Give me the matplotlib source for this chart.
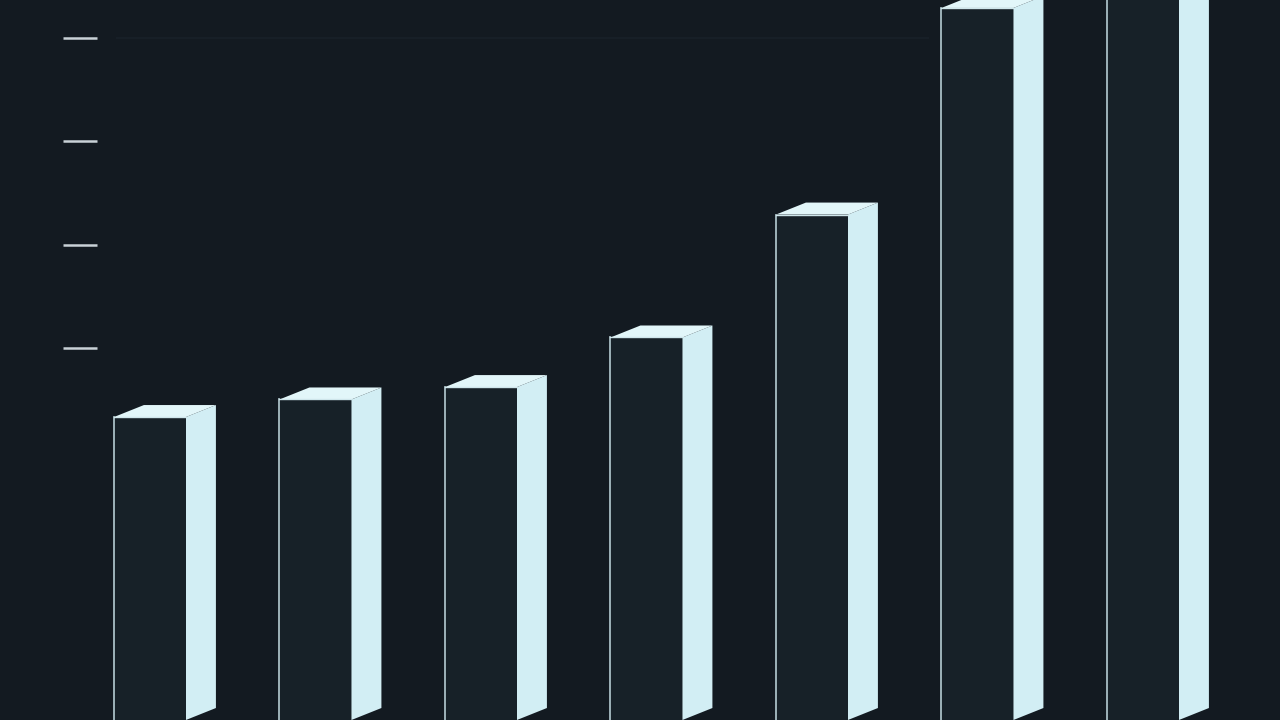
import matplotlib
matplotlib.use("Agg")
import matplotlib.pyplot as plt
from matplotlib.patches import Polygon

# bar heights (arbitrary units, ticks every 10)
categories = ["A", "B", "C", "D", "E", "F", "G"]
values = [33.3, 35.0, 36.2, 41.0, 52.9, 72.9, 80.0]
tick_values = [40, 50, 60, 70]

bg = "#131a21"
front_col = "#172128"
side_col = "#d2eef4"
top_col = "#e2f6f9"
edge_col = "#a9bfc5"

fig = plt.figure(figsize=(12.8, 7.2), dpi=100, facecolor=bg)
ax = fig.add_axes([97 / 1280, 0, 1 - 97 / 1280, 1])
ax.set_facecolor(bg)

y0, y1 = 3.97, 73.67
ax.set_xlim(-0.32, 6.828)
ax.set_ylim(y0, y1)

width = 0.435
dx = 0.181   # side depth
dy = 1.16    # top rise

# faint grid line at the top tick
ax.plot([-0.2, 4.7], [tick_values[-1]] * 2, color="#171f27", lw=1.5, zorder=0)

for i, v in enumerate(values):
    xl = i - width / 2
    xr = i + width / 2
    base = y0
    # side face
    ax.add_patch(Polygon([(xr, base), (xr + dx, base + dy), (xr + dx, v + dy), (xr, v)],
                         closed=True, facecolor=side_col, edgecolor="none", zorder=2))
    # top face
    ax.add_patch(Polygon([(xl, v), (xl + dx, v + dy), (xr + dx, v + dy), (xr, v)],
                         closed=True, facecolor=top_col, edgecolor="none", zorder=2))
    # front face
    ax.add_patch(Polygon([(xl, base), (xl, v), (xr, v), (xr, base)],
                         closed=True, facecolor=front_col, edgecolor="none", zorder=3))
    ax.plot([xl, xl], [base, v], color=edge_col, lw=1.3, zorder=4)
    ax.plot([xl, xr], [v, v], color="#cfe6eb", lw=1.0, zorder=4)

ax.set_xticks([])
ax.set_yticks(tick_values)
ax.set_yticklabels([])
ax.tick_params(axis="y", direction="out", length=24.5, width=1.8, color="#c9d1d7")
for s in ax.spines.values():
    s.set_visible(False)

fig.savefig("out.png", dpi=100, facecolor=bg)
